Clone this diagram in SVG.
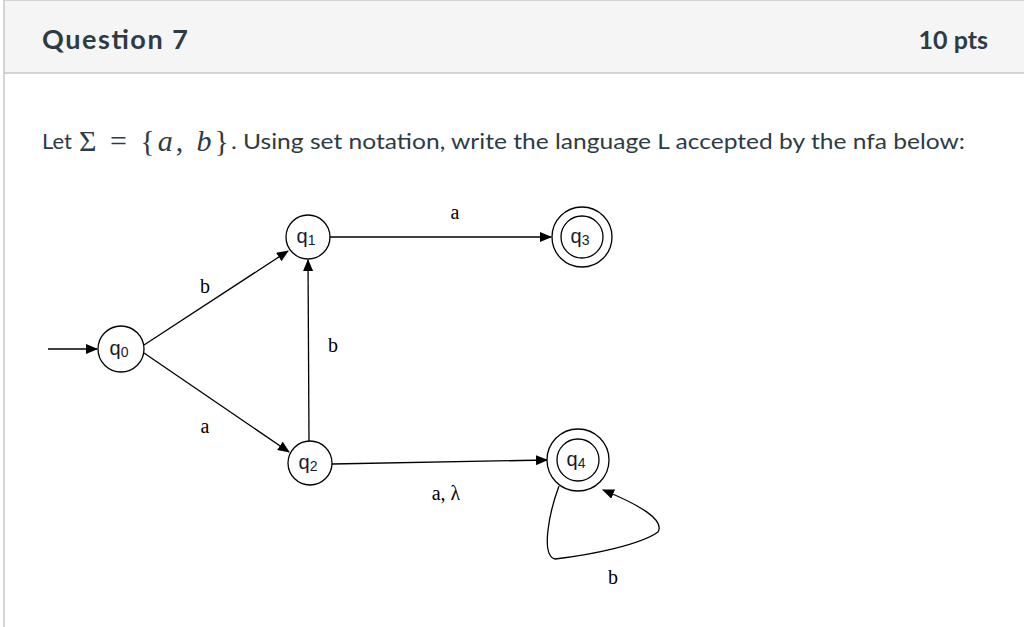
<svg xmlns="http://www.w3.org/2000/svg" width="1024" height="627" viewBox="0 0 1024 627">
<style>
.st{fill:#fff;stroke:#000;stroke-width:1.3}
.ed{fill:none;stroke:#000;stroke-width:1.3}
.q{font-family:"Liberation Sans",sans-serif;font-size:20px;fill:#1a1a2e}
.lb{font-family:"Liberation Serif",serif;font-size:20px;fill:#000}
</style>
<defs><marker id="ar" markerWidth="12" markerHeight="10" refX="11" refY="5" orient="auto" markerUnits="userSpaceOnUse"><path d="M0,0L12,5L0,10z" fill="#000"/></marker></defs>
<rect x="0" y="0" width="1024" height="627" fill="#fff"/>
<rect x="4" y="0" width="1030" height="73" fill="#f5f5f5" stroke="#c7c7c7" stroke-width="1.5"/>
<line x1="4" y1="73" x2="4" y2="627" stroke="#c7c7c7" stroke-width="1.5"/>
<text x="42" y="49" font-family="Lato,sans-serif" font-size="27" font-weight="bold" fill="#2d3b45" textLength="146">Question 7</text>
<text x="988" y="49" text-anchor="end" font-family="Lato,sans-serif" font-size="25" font-weight="bold" fill="#2d3b45">10 pts</text>
<text x="42" y="149" font-family="Lato,sans-serif" font-size="22" fill="#2d3b45">Let</text>
<text x="79" y="151" font-family="Liberation Serif,serif" font-size="30" fill="#2d3b45" textLength="150" lengthAdjust="spacing">Σ = {<tspan font-style="italic">a</tspan>, <tspan font-style="italic">b</tspan>}</text>
<text x="231" y="149" font-family="Lato,sans-serif" font-size="22" fill="#2d3b45" textLength="734" lengthAdjust="spacingAndGlyphs">. Using set notation, write the language L accepted by the nfa below:</text>
<g id="edges">
<line class="ed" x1="48" y1="349" x2="97" y2="349" marker-end="url(#ar)"/>
<line class="ed" x1="144" y1="345" x2="288" y2="251" marker-end="url(#ar)"/>
<line class="ed" x1="144" y1="353" x2="289" y2="452" marker-end="url(#ar)"/>
<line class="ed" x1="309" y1="441" x2="308" y2="260" marker-end="url(#ar)"/>
<line class="ed" x1="330" y1="237" x2="551" y2="237" marker-end="url(#ar)"/>
<line class="ed" x1="332" y1="464" x2="547" y2="460" marker-end="url(#ar)"/>
<path class="ed" d="M559,486 C550,510 540,555 555,559 C590,555 640,545 658,532 C665,520 640,505 603,490" marker-end="url(#ar)"/>
<text class="lb" x="455" y="219" text-anchor="middle">a</text>
<text class="lb" x="205" y="293" text-anchor="middle">b</text>
<text class="lb" x="333" y="352" text-anchor="middle">b</text>
<text class="lb" x="205" y="433" text-anchor="middle">a</text>
<text class="lb" x="446" y="500" text-anchor="middle">a, λ</text>
<text class="lb" x="613" y="584" text-anchor="middle">b</text>
</g>
<g id="q0"><circle class="st" cx="121" cy="349" r="23"/><text class="q" x="119" y="355" text-anchor="middle">q<tspan font-size="14" dy="2">0</tspan></text></g>
<g id="q1"><circle class="st" cx="308" cy="237" r="22"/><text class="q" x="306" y="243" text-anchor="middle">q<tspan font-size="14" dy="2">1</tspan></text></g>
<g id="q2"><circle class="st" cx="310" cy="463" r="22"/><text class="q" x="308" y="469" text-anchor="middle">q<tspan font-size="14" dy="2">2</tspan></text></g>
<g id="q3"><circle class="st" cx="582" cy="237" r="30"/><circle class="st" cx="582" cy="237" r="21"/><text class="q" x="580" y="243" text-anchor="middle">q<tspan font-size="14" dy="2">3</tspan></text></g>
<g id="q4"><circle class="st" cx="578" cy="460" r="31"/><circle class="st" cx="578" cy="460" r="21"/><text class="q" x="576" y="466" text-anchor="middle">q<tspan font-size="14" dy="2">4</tspan></text></g>
</svg>
